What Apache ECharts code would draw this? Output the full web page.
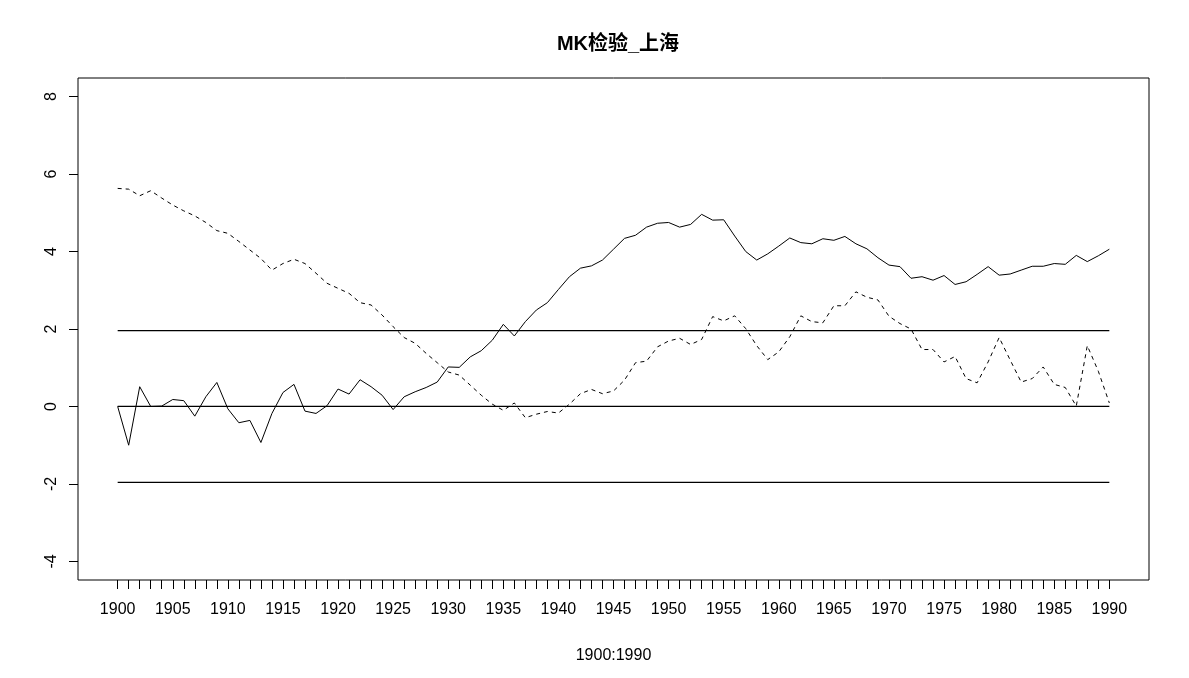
<!DOCTYPE html>
<html>
<head>
<meta charset="utf-8">
<title>MK检验_上海</title>
<script src="https://cdn.jsdelivr.net/npm/echarts@6/dist/echarts.min.js"></script>
<style>
html,body{margin:0;padding:0;background:#fff;}
#chart{width:1189px;height:678px;}
</style>
</head>
<body>
<div id="chart"></div>
<script>
// Years 1900..1990 (x categories)
const years = [];
for (let y = 1900; y <= 1990; y++) years.push(y);

// UF statistic (solid line)
const uf = [
  0.00, -1.00, 0.51, 0.00, 0.01, 0.18, 0.15, -0.25, 0.25, 0.62,
  -0.06, -0.42, -0.36, -0.93, -0.18, 0.36, 0.57, -0.12, -0.18, 0.02,
  0.45, 0.32, 0.69, 0.51, 0.29, -0.08, 0.25, 0.38, 0.49, 0.63,
  1.02, 1.01, 1.28, 1.44, 1.71, 2.12, 1.82, 2.19, 2.49, 2.68,
  3.02, 3.35, 3.57, 3.63, 3.78, 4.06, 4.34, 4.42, 4.63, 4.73,
  4.75, 4.63, 4.70, 4.96, 4.81, 4.82, 4.40, 4.00, 3.78, 3.94,
  4.14, 4.35, 4.23, 4.20, 4.33, 4.29, 4.39, 4.20, 4.07, 3.84,
  3.65, 3.61, 3.31, 3.35, 3.26, 3.38, 3.15, 3.22, 3.41, 3.61,
  3.39, 3.42, 3.52, 3.62, 3.62, 3.69, 3.67, 3.90, 3.74, 3.89,
  4.06
];

// UB statistic (dashed line)
const ub = [
  5.63, 5.61, 5.44, 5.57, 5.38, 5.20, 5.05, 4.92, 4.75, 4.54,
  4.47, 4.26, 4.04, 3.82, 3.52, 3.69, 3.80, 3.69, 3.44, 3.18,
  3.05, 2.92, 2.68, 2.62, 2.36, 2.06, 1.78, 1.63, 1.37, 1.13,
  0.89, 0.81, 0.55, 0.29, 0.06, -0.10, 0.09, -0.29, -0.20, -0.13,
  -0.17, 0.06, 0.33, 0.44, 0.33, 0.40, 0.68, 1.13, 1.17, 1.54,
  1.69, 1.76, 1.60, 1.73, 2.32, 2.21, 2.34, 2.01, 1.57, 1.21,
  1.41, 1.80, 2.34, 2.19, 2.16, 2.60, 2.60, 2.96, 2.82, 2.75,
  2.33, 2.14, 2.00, 1.47, 1.47, 1.15, 1.29, 0.72, 0.61, 1.15,
  1.78, 1.20, 0.63, 0.72, 1.02, 0.57, 0.49, 0.01, 1.57, 0.91,
  0.09
];

// Reference levels
const refLevels = [1.96, 0, -1.96];

// Tick labels
const xLabelYears = [1900, 1905, 1910, 1915, 1920, 1925, 1930, 1935, 1940, 1945,
  1950, 1955, 1960, 1965, 1970, 1975, 1980, 1985, 1990];
const yTicks = [-4, -2, 0, 2, 4, 6, 8];

const FONT = "'Liberation Sans', Arial, 'Noto Sans CJK SC', sans-serif";

const chart = echarts.init(document.getElementById('chart'), null, {renderer: 'canvas'});

const series = [
  {
    type: 'line', name: 'UF', symbol: 'none', animation: false,
    data: years.map((y, i) => [y, uf[i]]),
    lineStyle: {color: '#000', width: 1, type: 'solid'}
  },
  {
    type: 'line', name: 'UB', symbol: 'none', animation: false,
    data: years.map((y, i) => [y, ub[i]]),
    lineStyle: {color: '#000', width: 1, type: [4, 4]}
  }
];
refLevels.forEach(v => {
  series.push({
    type: 'line', symbol: 'none', animation: false, silent: true,
    data: [[years[0], v], [years[years.length - 1], v]],
    lineStyle: {color: '#000', width: 1.3, type: 'solid'}
  });
});

chart.setOption({
  backgroundColor: '#fff',
  animation: false,
  title: {
    text: 'MK检验_上海',
    left: 613, top: 29, textAlign: 'center',
    textStyle: {fontFamily: FONT, fontWeight: 'bold', fontSize: 20, color: '#000'}
  },
  grid: {
    left: 78, right: 40, top: 78, bottom: 98,
    show: true, borderColor: '#000', borderWidth: 1, backgroundColor: 'transparent'
  },
  xAxis: {
    type: 'value', min: 1896.4, max: 1993.6,
    name: '1900:1990', nameLocation: 'middle', nameGap: 68,
    nameTextStyle: {fontFamily: FONT, fontSize: 16, color: '#000'},
    axisLine: {show: false, onZero: false},
    splitLine: {show: false},
    axisTick: {show: true, length: 9, customValues: years, lineStyle: {color: '#000', width: 1}},
    axisLabel: {customValues: xLabelYears, formatter: v => String(v),
      fontFamily: FONT, fontSize: 16, color: '#000', margin: 22}
  },
  yAxis: {
    type: 'value', min: -4.48, max: 8.48,
    axisLine: {show: false, onZero: false},
    splitLine: {show: false},
    axisTick: {show: true, length: 9, customValues: yTicks, lineStyle: {color: '#000', width: 1}},
    axisLabel: {customValues: yTicks, formatter: v => String(v), rotate: 90,
      fontFamily: FONT, fontSize: 16, color: '#000', margin: 18}
  },
  series: series
});
</script>
</body>
</html>
